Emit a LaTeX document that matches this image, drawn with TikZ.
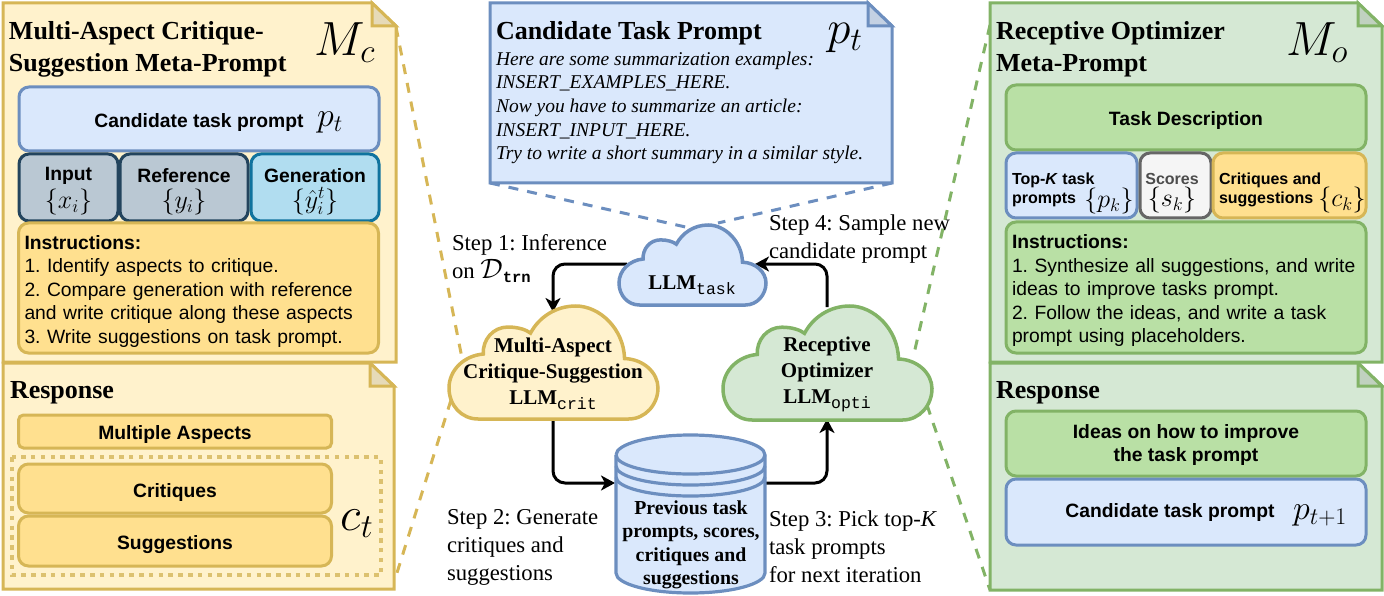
\RequirePackage{fix-cm}
\documentclass[tikz,border=0pt]{standalone}
\usepackage{fontspec}
\setmainfont{Liberation Serif}
\setsansfont{Liberation Sans}
\newfontfamily\monofam{Liberation Mono}
\usetikzlibrary{arrows.meta}

\definecolor{ylfill}{HTML}{FFF2CC}
\definecolor{ylline}{HTML}{D6B656}
\definecolor{ylfold}{HTML}{E6DAB8}
\definecolor{ylbox}{HTML}{FFE08F}
\definecolor{blfill}{HTML}{DAE8FC}
\definecolor{blline}{HTML}{6C8EBF}
\definecolor{blfold}{HTML}{C4D1E3}
\definecolor{grfill}{HTML}{D5E8D4}
\definecolor{grline}{HTML}{82B366}
\definecolor{grfold}{HTML}{C0D1BF}
\definecolor{grbox}{HTML}{B9E0A5}
\definecolor{slfill}{HTML}{BAC8D3}
\definecolor{slline}{HTML}{23445D}
\definecolor{cyfill}{HTML}{B1DDF0}
\definecolor{cyline}{HTML}{10739E}
\definecolor{gyfill}{HTML}{F5F5F5}
\definecolor{gyline}{HTML}{666666}

\newcommand{\fs}[1]{\fontsize{#1}{#1}\selectfont}
\newcommand{\lmm}[1]{\raisebox{-5pt}{\normalfont\monofam\fontsize{16.5}{16.5}\selectfont #1}}

% sheet with a folded corner: x1 y1 x2 y2 fill line foldfill
\newcommand{\sheet}[7]{
  \draw[line width=3pt,fill=#5,draw=#6] (#1,#2) -- (#3-24,#2) -- (#3,#2+23) -- (#3,#4) -- (#1,#4) -- cycle;
  \draw[line width=3pt,fill=#7,draw=#6] (#3-24,#2) -- (#3-24,#2+23) -- (#3,#2+23) -- cycle;
}
% cloud outline in the box x y w h
\newcommand{\llmcloud}[6]{
  \begin{scope}[shift={(#1,#2)},x=#3pt,y=-#4pt]
    \draw[line width=3.5pt,fill=#5,draw=#6] (0.139,1) -- (0.86,1)
      .. controls (0.94,1) and (1,0.87) .. (1,0.725)
      .. controls (1,0.59) and (0.93,0.47) .. (0.84,0.465)
      .. controls (0.836,0.2) and (0.72,0) .. (0.607,0)
      .. controls (0.51,0) and (0.43,0.1) .. (0.39,0.24)
      .. controls (0.37,0.21) and (0.33,0.186) .. (0.282,0.186)
      .. controls (0.21,0.186) and (0.16,0.3) .. (0.164,0.425)
      .. controls (0.07,0.44) and (0,0.57) .. (0,0.725)
      .. controls (0,0.88) and (0.06,1) .. (0.139,1) -- cycle;
  \end{scope}
}

\tikzset{
  bx/.style 2 args={draw,rounded corners=10pt,line width=3pt,inner sep=0pt,outer sep=0pt,
    minimum width=#1pt,minimum height=#2pt,align=center,font=\sffamily\bfseries\fs{19.3},
    execute at begin node={\rule{0pt}{21pt}}},
  ylb/.style={fill=ylbox,draw=ylline},
  grb/.style={fill=grbox,draw=grline},
  blb/.style={fill=blfill,draw=blline},
  slb/.style={fill=slfill,draw=slline},
  txt/.style={inner sep=0pt,outer sep=0pt,align=left},
  boxlbl/.style={txt,align=center,font=\sffamily\bfseries\fontsize{19.3}{23}\selectfont},
  title/.style={txt,anchor=base west,font=\bfseries\fs{26}},
  steplbl/.style={txt,anchor=west,font=\fontsize{22.7}{28}\selectfont},
  cloudtxt/.style={txt,align=center,font=\bfseries\fontsize{21}{26}\selectfont},
  instr/.style={font=\sffamily\fontsize{19.3}{23.5}\selectfont,text width=348pt,inner xsep=6pt,align=left},
  smalllbl/.style={txt,anchor=west,font=\sffamily\bfseries\fontsize{16}{19}\selectfont},
  zoomline/.style={line width=3pt,dash pattern=on 10pt off 9pt},
  flow/.style={line width=3pt,rounded corners=12pt,-{Stealth[length=14pt,width=15pt,inset=4pt]}},
}

\begin{document}
\frenchspacing
\begin{tikzpicture}[x=1pt,y=-1pt]
\useasboundingbox (0,0) rectangle (1384,596);

% free ends of the dashed zoom lines and the connectors
\coordinate (mctop) at (396,27);
\coordinate (crittop) at (462,358);
\coordinate (critbot) at (451,400);
\coordinate (resbot) at (396,576);
\coordinate (pl) at (490,183);
\coordinate (pr) at (892,183);
\coordinate (tl) at (690,228);
\coordinate (tr) at (718,223);
\coordinate (motop) at (990,25);
\coordinate (opttop) at (913,358);
\coordinate (optbot) at (927,405);
\coordinate (resrbot) at (990,590);
\coordinate (tskl) at (627,264);
\coordinate (tskr) at (755,264);
\coordinate (critin) at (553,312);
\coordinate (critout) at (553,420);
\coordinate (optin) at (827,419);
\coordinate (optout) at (827,307);
\coordinate (dbin) at (615,483);
\coordinate (dbout) at (765,483);

% dashed zoom lines
\draw[zoomline,draw=ylline] (mctop) -- (crittop);
\draw[zoomline,draw=ylline] (critbot) -- (resbot);
\draw[zoomline,draw=blline] (pl) -- (tl);
\draw[zoomline,draw=blline] (pr) -- (tr);
\draw[zoomline,draw=grline] (motop) -- (opttop);
\draw[zoomline,draw=grline] (optbot) -- (resrbot);

% left meta-prompt
\sheet{3}{363}{394}{589}{ylfill}{ylline}{ylfold}
\sheet{3}{3}{396}{362}{ylfill}{ylline}{ylfold}
\node[title] (mct) at (9,40) {Multi-Aspect Critique-};
\node[title] (mct2) at (9,72) {Suggestion Meta-Prompt};
\node[txt] (mcm) at (345,43) {\fs{48}$M_c$};
\node[bx={360}{64},blb] (cand) at (199,119) {Candidate task prompt};
\node[txt] (candp) at (330,122) {\fs{34}$p_t$};
\node[bx={99}{67},slb] (inp) at (68.5,187.5) {};
\node[boxlbl] (inpt) at (68.5,176) {Input};
\node[txt] (inpm) at (68.5,202) {\fs{26}$\{x_i\}$};
\node[bx={128}{67},slb] (ref) at (184,187.5) {};
\node[boxlbl] (reft) at (184,176) {Reference};
\node[txt] (refm) at (184,202) {\fs{26}$\{y_i\}$};
\node[bx={128}{67},fill=cyfill,draw=cyline] (gen) at (315,187.5) {};
\node[boxlbl] (gent) at (315,176) {Generation};
\node[txt] (genm) at (315,201) {\fs{26}$\{\hat{y}_i^t\}$};
\node[bx={359}{130},ylb,instr] (ins) at (198.5,288) {\textbf{Instructions:}\\
1. Identify aspects to critique.\\
2. Compare generation with reference\\
and write critique along these aspects\\
3. Write suggestions on task prompt.};

% left response
\node[title] (rest) at (10,398) {Response};
\node[bx={313}{33},ylb,rounded corners=5pt] (asp) at (175,431.5) {Multiple Aspects};
\draw[line width=4pt,draw=ylline!85!white,dash pattern=on 4.5pt off 5.3pt] (12,457) rectangle (381,575);
\node[bx={313}{49},ylb] (crt) at (175,488.5) {Critiques};
\node[bx={313}{50},ylb] (sug) at (175,541) {Suggestions};
\node[txt] (ct) at (357,524) {\fs{48}$c_t$};

% candidate prompt
\sheet{490}{3}{892}{183}{blfill}{blline}{blfold}
\node[title] (pt) at (496,40) {Candidate Task Prompt};
\node[txt] (ptm) at (845,38) {\fs{47}$p_t$};
\node[txt,anchor=north west,font=\itshape\fontsize{19.5}{23.7}\selectfont] (ptx) at (496,51.5) {Here are some summarization examples:\\
INSERT\_EXAMPLES\_HERE.\\
Now you have to summarize an article:\\
INSERT\_INPUT\_HERE.\\
Try to write a short summary in a similar style.};

% connectors
\draw[flow] (tskl) -| (critin);
\draw[flow] (critout) |- (dbin);
\draw[flow] (dbout) -| (optin);
\draw[flow] (optout) |- (tskr);

% clouds
\llmcloud{619}{225}{147}{80}{blfill}{blline}
\node[cloudtxt] (tsk) at (692,285) {LLM\lmm{task}};
\llmcloud{449}{306}{209}{113}{ylfill}{ylline}
\node[cloudtxt] (crit) at (553,374) {Multi-Aspect\\Critique-Suggestion\\LLM\lmm{crit}};
\llmcloud{723}{306}{209}{114}{grfill}{grline}
\node[cloudtxt] (opt) at (827,374) {Receptive\\Optimizer\\LLM\lmm{opti}};

% database
\draw[line width=3.2pt,fill=blfill,draw=blline] (616,455) -- (616,573) arc[start angle=180,end angle=0,x radius=74.5,y radius=20] -- (765,455) arc[start angle=0,end angle=-180,x radius=74.5,y radius=20];
\draw[line width=3.2pt,draw=blline] (616,455) arc[start angle=180,end angle=0,x radius=74.5,y radius=19];
\draw[line width=3.2pt,draw=blline] (616,466) arc[start angle=180,end angle=0,x radius=74.5,y radius=19];
\draw[line width=3.2pt,draw=blline] (616,477) arc[start angle=180,end angle=0,x radius=74.5,y radius=19];
\node[txt,align=center,font=\bfseries\fontsize{19.8}{23.5}\selectfont] (db) at (691,545) {Previous task\\prompts, scores,\\critiques and\\suggestions};

% step labels
\node[steplbl] (s1) at (452,259) {Step 1: Inference\\on {\fs{28}$\mathcal{D}$}\raisebox{-4pt}{\monofam\bfseries\fontsize{15.5}{15.5}\selectfont trn}};
\node[steplbl] (s4) at (769,239) {Step 4: Sample new\\candidate prompt};
\node[steplbl] (s2) at (447,547) {Step 2: Generate\\critiques and\\suggestions};
\node[steplbl] (s3) at (769,547) {Step 3: Pick top-\textit{K}\\task prompts\\for next iteration};

% right meta-prompt
\sheet{990}{363}{1382}{590}{grfill}{grline}{grfold}
\sheet{990}{3}{1382}{362}{grfill}{grline}{grfold}
\node[title] (mot) at (996,40) {Receptive Optimizer};
\node[title] (mot2) at (996,72) {Meta-Prompt};
\node[txt] (mom) at (1317,43) {\fs{48}$M_o$};
\node[bx={360}{65},grb] (task) at (1186,117.5) {Task Description};
\node[bx={131}{65},blb] (topk) at (1071.5,185.5) {};
\node[smalllbl] (topkt) at (1012,189.5) {Top-\textit{K} task\\prompts};
\node[txt] (topkm) at (1109,201) {\fs{26}$\{p_k\}$};
\node[bx={71}{65},fill=gyfill,draw=gyline] (sc) at (1175.5,185.5) {};
\node[txt,font=\sffamily\bfseries\fs{16},text=gyline!75!black] (sct) at (1172,179) {Scores};
\node[txt] (scm) at (1172,200) {\fs{26}$\{s_k\}$};
\node[bx={153}{65},ylb] (cs) at (1289.5,185.5) {};
\node[smalllbl] (cst) at (1219,189.5) {Critiques and\\suggestions};
\node[txt] (csm) at (1342,200) {\fs{26}$\{c_k\}$};
\node[bx={360}{131},grb,instr] (ins2) at (1186,287.5) {\textbf{Instructions:}\\
1. Synthesize all suggestions, and write\\
ideas to improve tasks prompt.\\
2. Follow the ideas, and write a task\\
prompt using placeholders.};

% right response
\node[title] (rest2) at (996,398) {Response};
\node[bx={360}{65},grb] (ideas) at (1186,443.5) {};
\node[boxlbl] (ideast) at (1186,445) {Ideas on how to improve\\the task prompt};
\node[bx={360}{66},blb] (next) at (1186,512) {};
\node[txt,font=\sffamily\bfseries\fs{19.3}] (nextt) at (1170,513) {Candidate task prompt};
\node[txt] (nextm) at (1320,515) {\fs{34}$p_{t+1}$};
\end{tikzpicture}
\end{document}
